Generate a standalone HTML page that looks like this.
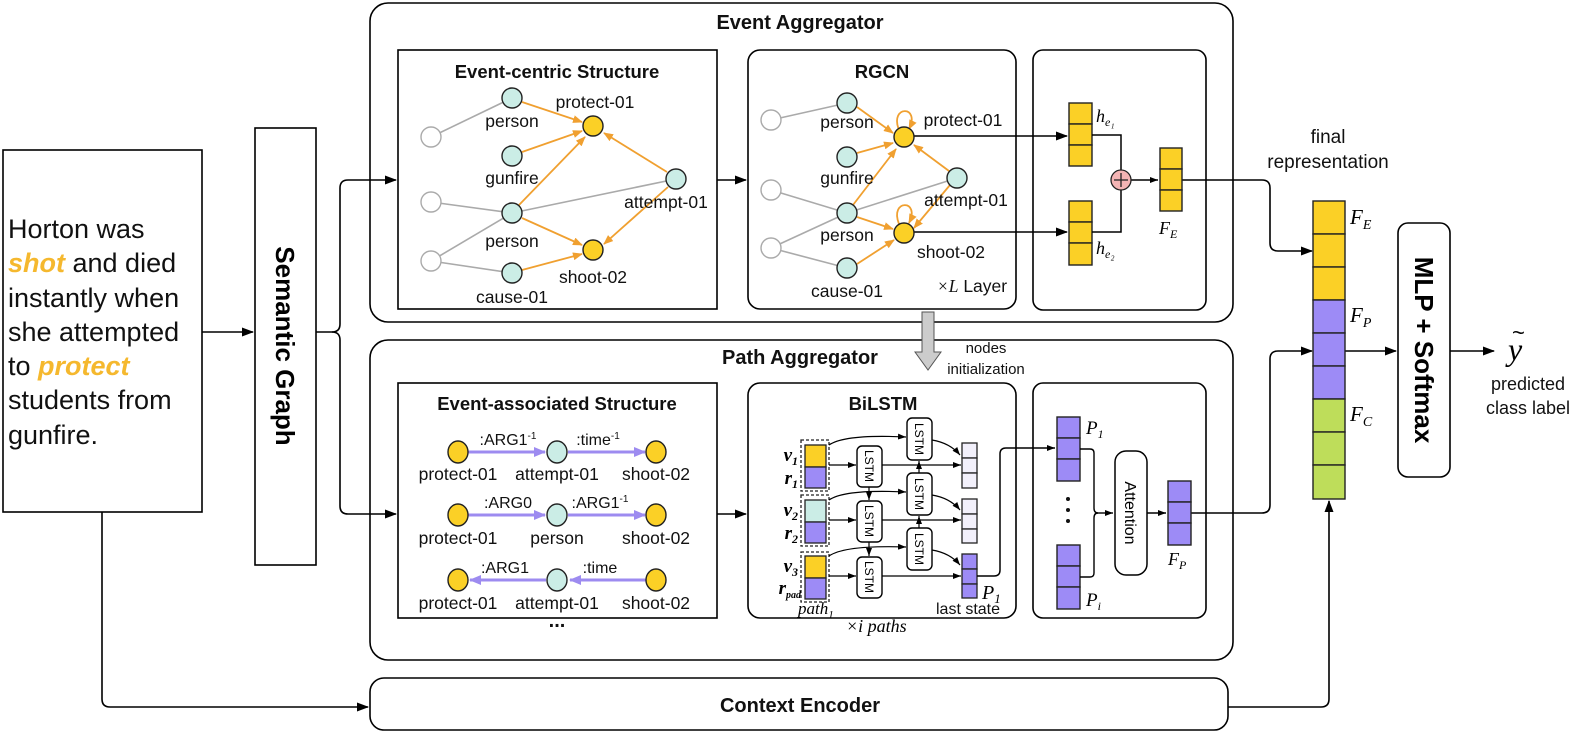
<!DOCTYPE html>
<html><head><meta charset="utf-8"><style>
html,body{margin:0;padding:0;background:#fff;}
svg{display:block;font-family:"Liberation Sans",sans-serif;}
.t{font-size:17.5px;fill:#111;text-anchor:middle;}
.b{font-weight:bold;}
.m{font-family:"Liberation Serif",serif;font-style:italic;}
</style></head><body>
<svg width="1575" height="734" viewBox="0 0 1575 734" xmlns="http://www.w3.org/2000/svg">
<defs>
<marker id="ak" markerWidth="12" markerHeight="9" refX="11" refY="4.5" orient="auto" markerUnits="userSpaceOnUse"><path d="M0,0 L12,4.5 L0,9 z" fill="#000"/></marker>
<marker id="as" markerWidth="8" markerHeight="6" refX="8" refY="3" orient="auto" markerUnits="userSpaceOnUse"><path d="M0,0 L8,3 L0,6 z" fill="#000"/></marker>
<marker id="ao" markerWidth="10" markerHeight="8" refX="9" refY="4" orient="auto" markerUnits="userSpaceOnUse"><path d="M0,0 L10,4 L0,8 z" fill="#F0A030"/></marker>
<marker id="ap" markerWidth="12" markerHeight="10" refX="11" refY="5" orient="auto" markerUnits="userSpaceOnUse"><path d="M0,0 L12,5 L0,10 z" fill="#9D8BF0"/></marker>
</defs>
<g fill="none" stroke="#000" stroke-width="1.6">
<rect x="3" y="150" width="199" height="362"/>
<rect x="255" y="128" width="61" height="437"/>
<rect x="370" y="3" width="863" height="319" rx="18"/>
<rect x="370" y="340" width="863" height="320" rx="18"/>
<rect x="370" y="678" width="858" height="52" rx="14"/>
<rect x="398" y="50" width="319" height="259"/>
<rect x="748" y="50" width="268" height="259" rx="12"/>
<rect x="1033" y="50" width="173" height="260" rx="10"/>
<rect x="398" y="383" width="319" height="235"/>
<rect x="748" y="383" width="268" height="235" rx="12"/>
<rect x="1033" y="383" width="173" height="235" rx="10"/>
<rect x="1398" y="223" width="52" height="254" rx="10"/>
</g>
<g fill="none" stroke="#000" stroke-width="1.6">
<path d="M202,332 H253" marker-end="url(#ak)"/>
<path d="M316,332 H332 Q340,332 340,324 V188 Q340,180 348,180 H396" marker-end="url(#ak)"/>
<path d="M332,332 Q340,332 340,340 V506 Q340,514 348,514 H396" marker-end="url(#ak)"/>
<path d="M717,180 H746" marker-end="url(#ak)"/>
<path d="M717,514 H746" marker-end="url(#ak)"/>
<path d="M102,512 V699 Q102,707 110,707 H368" marker-end="url(#ak)"/>
<path d="M1228,707 H1321 Q1329,707 1329,699 V501" marker-end="url(#ak)"/>
<path d="M1182,180 H1262 Q1270,180 1270,188 V243 Q1270,251 1278,251 H1312" marker-end="url(#ak)"/>
<path d="M1191,513 H1262 Q1270,513 1270,505 V359 Q1270,351 1278,351 H1312" marker-end="url(#ak)"/>
<path d="M1345,351 H1396" marker-end="url(#ak)"/>
<path d="M1450,351 H1494" marker-end="url(#ak)"/>
</g>
<path d="M922,312 H934 V352 H941 L928,370 L915,352 H922 Z" fill="#ccc" stroke="#555" stroke-width="1"/>
<text class="t" x="986" y="353" style="font-size:15px">nodes</text>
<text class="t" x="986" y="374" style="font-size:15px">initialization</text>

<text class="t b" x="800" y="29" style="font-size:20px">Event Aggregator</text>
<text class="t b" x="800" y="364" style="font-size:20px">Path Aggregator</text>
<text class="t b" x="800" y="712" style="font-size:20px">Context Encoder</text>
<text class="t b" x="557" y="78" style="font-size:18.5px">Event-centric Structure</text>
<text class="t b" x="882" y="78" style="font-size:18.5px">RGCN</text>
<text class="t b" x="557" y="410" style="font-size:18.5px">Event-associated Structure</text>
<text class="t b" x="883" y="410" style="font-size:18.5px">BiLSTM</text>
<text class="b" transform="translate(276,346) rotate(90)" text-anchor="middle" style="font-size:26px">Semantic Graph</text>
<text class="b" transform="translate(1415,350) rotate(90)" text-anchor="middle" style="font-size:26px">MLP + Softmax</text>

<g style="font-size:27px" fill="#111">
<text x="8" y="238">Horton was</text>
<text x="8" y="272"><tspan fill="#F5B82E" font-weight="bold" font-style="italic">shot</tspan> and died</text>
<text x="8" y="307">instantly when</text>
<text x="8" y="341">she attempted</text>
<text x="8" y="375">to <tspan fill="#F5B82E" font-weight="bold" font-style="italic">protect</tspan></text>
<text x="8" y="409">students from</text>
<text x="8" y="444">gunfire.</text>
</g>

<!-- Event-centric graph -->
<g stroke="#aaa" stroke-width="1.6" fill="none">
<line x1="431" y1="137" x2="512" y2="98"/>
<line x1="431" y1="202" x2="512" y2="213"/>
<line x1="431" y1="261" x2="512" y2="213"/>
<line x1="431" y1="261" x2="512" y2="273"/>
<line x1="512" y1="213" x2="676" y2="179"/>
</g>
<g stroke="#F0A030" stroke-width="1.8" fill="none" marker-end="url(#ao)">
<line x1="522" y1="102" x2="582" y2="122"/>
<line x1="522" y1="152" x2="582" y2="131"/>
<line x1="519" y1="205" x2="585" y2="137"/>
<line x1="667" y1="172" x2="604" y2="133"/>
<line x1="522" y1="218" x2="582" y2="245"/>
<line x1="668" y1="187" x2="604" y2="244"/>
<line x1="522" y1="270" x2="582" y2="254"/>
</g>
<g stroke="#222" stroke-width="1.4">
<circle cx="431" cy="137" r="10" fill="#fff" stroke="#aaa"/>
<circle cx="431" cy="202" r="10" fill="#fff" stroke="#aaa"/>
<circle cx="431" cy="261" r="10" fill="#fff" stroke="#aaa"/>
<circle cx="512" cy="98" r="10" fill="#CBEDE6"/>
<circle cx="512" cy="156" r="10" fill="#CBEDE6"/>
<circle cx="512" cy="213" r="10" fill="#CBEDE6"/>
<circle cx="512" cy="273" r="10" fill="#CBEDE6"/>
<circle cx="676" cy="179" r="10" fill="#CBEDE6"/>
<circle cx="593" cy="126" r="10" fill="#FBD026"/>
<circle cx="593" cy="250" r="10" fill="#FBD026"/>
</g>
<text class="t" x="595" y="108">protect-01</text>
<text class="t" x="512" y="127">person</text>
<text class="t" x="512" y="184">gunfire</text>
<text class="t" x="666" y="208">attempt-01</text>
<text class="t" x="512" y="247">person</text>
<text class="t" x="593" y="283">shoot-02</text>
<text class="t" x="512" y="303">cause-01</text>

<!-- RGCN graph -->
<g stroke="#aaa" stroke-width="1.6" fill="none">
<line x1="771" y1="120" x2="847" y2="103"/>
<line x1="771" y1="190" x2="847" y2="213"/>
<line x1="771" y1="248" x2="847" y2="213"/>
<line x1="771" y1="248" x2="847" y2="268"/>
<line x1="847" y1="213" x2="957" y2="178"/>
</g>
<g stroke="#F0A030" stroke-width="1.8" fill="none" marker-end="url(#ao)">
<line x1="857" y1="107" x2="893" y2="133"/>
<line x1="857" y1="153" x2="893" y2="143"/>
<line x1="853" y1="205" x2="896" y2="149"/>
<line x1="949" y1="171" x2="914" y2="145"/>
<line x1="857" y1="217" x2="893" y2="229"/>
<line x1="950" y1="185" x2="914" y2="228"/>
<line x1="857" y1="264" x2="894" y2="240"/>
<path d="M899,130 C889,105 921,105 909,129"/>
<path d="M899,224 C889,199 921,199 909,223"/>
</g>
<g stroke="#000" stroke-width="1.6" fill="none">
<path d="M914,136 H1067" marker-end="url(#ak)"/>
<path d="M914,232 H1067" marker-end="url(#ak)"/>
</g>
<g stroke="#222" stroke-width="1.4">
<circle cx="771" cy="120" r="10" fill="#fff" stroke="#aaa"/>
<circle cx="771" cy="190" r="10" fill="#fff" stroke="#aaa"/>
<circle cx="771" cy="248" r="10" fill="#fff" stroke="#aaa"/>
<circle cx="847" cy="103" r="10" fill="#CBEDE6"/>
<circle cx="847" cy="157" r="10" fill="#CBEDE6"/>
<circle cx="847" cy="213" r="10" fill="#CBEDE6"/>
<circle cx="847" cy="268" r="10" fill="#CBEDE6"/>
<circle cx="957" cy="178" r="10" fill="#CBEDE6"/>
<circle cx="904" cy="137" r="10" fill="#FBD026"/>
<circle cx="904" cy="233" r="10" fill="#FBD026"/>
</g>
<text class="t" x="847" y="128">person</text>
<text class="t" x="963" y="126">protect-01</text>
<text class="t" x="847" y="184">gunfire</text>
<text class="t" x="966" y="206">attempt-01</text>
<text class="t" x="847" y="241">person</text>
<text class="t" x="951" y="258">shoot-02</text>
<text class="t" x="847" y="297">cause-01</text>
<text class="t" x="972" y="292"><tspan class="m">×L</tspan> Layer</text>

<!-- Event aggregator right part -->
<g stroke="#222" stroke-width="1.4" fill="#FBD026">
<rect x="1069" y="103" width="23" height="21"/><rect x="1069" y="124" width="23" height="21"/><rect x="1069" y="145" width="23" height="21"/>
<rect x="1069" y="201" width="23" height="21"/><rect x="1069" y="222" width="23" height="21"/><rect x="1069" y="243" width="23" height="22"/>
<rect x="1160" y="148" width="22" height="21"/><rect x="1160" y="169" width="22" height="21"/><rect x="1160" y="190" width="22" height="21"/>
</g>
<g stroke="#000" stroke-width="1.5" fill="none">
<path d="M1092,135 H1121 V170"/>
<path d="M1092,232 H1121 V190"/>
<path d="M1131,180 H1158" marker-end="url(#as)"/>
</g>
<circle cx="1121" cy="180" r="10" fill="#F4B4B4" stroke="#222" stroke-width="1.3"/>
<path d="M1114,180 H1128 M1121,173 V187" stroke="#222" stroke-width="1.3"/>
<text class="m" x="1096" y="122" style="font-size:18px">h<tspan dy="4" style="font-size:12px">e₁</tspan></text>
<text class="m" x="1096" y="254" style="font-size:18px">h<tspan dy="4" style="font-size:12px">e₂</tspan></text>
<text class="m" x="1159" y="234" style="font-size:18px">F<tspan dy="4" style="font-size:12px">E</tspan></text>

<text class="t" x="1328" y="143" style="font-size:19px">final</text>
<text class="t" x="1328" y="168" style="font-size:19px">representation</text>
<g stroke="#222" stroke-width="1.4">
<rect x="1313" y="201" width="32" height="33" fill="#FBD026"/><rect x="1313" y="234" width="32" height="33" fill="#FBD026"/><rect x="1313" y="267" width="32" height="33" fill="#FBD026"/>
<rect x="1313" y="300" width="32" height="33" fill="#9D8BF6"/><rect x="1313" y="333" width="32" height="33" fill="#9D8BF6"/><rect x="1313" y="366" width="32" height="33" fill="#9D8BF6"/>
<rect x="1313" y="399" width="32" height="33" fill="#BEDD5A"/><rect x="1313" y="432" width="32" height="33" fill="#BEDD5A"/><rect x="1313" y="465" width="32" height="34" fill="#BEDD5A"/>
</g>
<text class="m" x="1350" y="224" style="font-size:21px">F<tspan dy="5" style="font-size:14px">E</tspan></text>
<text class="m" x="1350" y="322" style="font-size:21px">F<tspan dy="5" style="font-size:14px">P</tspan></text>
<text class="m" x="1350" y="421" style="font-size:21px">F<tspan dy="5" style="font-size:14px">C</tspan></text>
<text class="m" x="1508" y="360" style="font-size:32px">y</text>
<text x="1512" y="340" style="font-size:22px">~</text>
<text class="t" x="1528" y="390" style="font-size:18px">predicted</text>
<text class="t" x="1528" y="414" style="font-size:18px">class label</text>

<!-- Event-associated -->
<g stroke="#9D8BF0" stroke-width="3" fill="none" marker-end="url(#ap)">
<line x1="468" y1="452" x2="545" y2="452"/><line x1="568" y1="452" x2="645" y2="452"/>
<line x1="468" y1="515" x2="545" y2="515"/><line x1="568" y1="515" x2="645" y2="515"/>
<line x1="546" y1="580" x2="470" y2="580"/><line x1="646" y1="580" x2="570" y2="580"/>
</g>
<g stroke="#222" stroke-width="1.4">
<ellipse cx="458" cy="452" rx="10" ry="11" fill="#FBD026"/><ellipse cx="557" cy="452" rx="10" ry="11" fill="#CBEDE6"/><ellipse cx="656" cy="452" rx="10" ry="11" fill="#FBD026"/>
<ellipse cx="458" cy="515" rx="10" ry="11" fill="#FBD026"/><ellipse cx="557" cy="515" rx="10" ry="11" fill="#CBEDE6"/><ellipse cx="656" cy="515" rx="10" ry="11" fill="#FBD026"/>
<ellipse cx="458" cy="580" rx="10" ry="11" fill="#FBD026"/><ellipse cx="557" cy="580" rx="10" ry="11" fill="#CBEDE6"/><ellipse cx="656" cy="580" rx="10" ry="11" fill="#FBD026"/>
</g>
<g style="font-size:16px">
<text class="t" x="508" y="445" style="font-size:16px">:ARG1<tspan dy="-6" style="font-size:10px">-1</tspan></text>
<text class="t" x="598" y="445" style="font-size:16px">:time<tspan dy="-6" style="font-size:10px">-1</tspan></text>
<text class="t" x="508" y="508" style="font-size:16px">:ARG0</text>
<text class="t" x="600" y="508" style="font-size:16px">:ARG1<tspan dy="-6" style="font-size:10px">-1</tspan></text>
<text class="t" x="505" y="573" style="font-size:16px">:ARG1</text>
<text class="t" x="600" y="573" style="font-size:16px">:time</text>
</g>
<text class="t" x="458" y="480">protect-01</text><text class="t" x="557" y="480">attempt-01</text><text class="t" x="656" y="480">shoot-02</text>
<text class="t" x="458" y="544">protect-01</text><text class="t" x="557" y="544">person</text><text class="t" x="656" y="544">shoot-02</text>
<text class="t" x="458" y="609">protect-01</text><text class="t" x="557" y="609">attempt-01</text><text class="t" x="656" y="609">shoot-02</text>
<text class="t b" x="557" y="627" style="font-size:20px">...</text>

<!-- BiLSTM -->
<g stroke="#222" stroke-width="1.3" stroke-dasharray="3,2" fill="none">
<rect x="801" y="440" width="28" height="51"/><rect x="801" y="495" width="28" height="51"/><rect x="801" y="552" width="28" height="50"/>
</g>
<g stroke="#222" stroke-width="1.3">
<rect x="805" y="445" width="21" height="22" fill="#FBD026"/><rect x="805" y="467" width="21" height="21" fill="#9D8BF6"/>
<rect x="805" y="500" width="21" height="22" fill="#CBEDE6"/><rect x="805" y="522" width="21" height="21" fill="#9D8BF6"/>
<rect x="805" y="556" width="21" height="22" fill="#FBD026"/><rect x="805" y="578" width="21" height="21" fill="#9D8BF6"/>
<rect x="962" y="443" width="15" height="15" fill="#f2f0fb"/><rect x="962" y="458" width="15" height="15" fill="#f2f0fb"/><rect x="962" y="473" width="15" height="15" fill="#f2f0fb"/>
<rect x="962" y="499" width="15" height="15" fill="#f2f0fb"/><rect x="962" y="514" width="15" height="15" fill="#f2f0fb"/><rect x="962" y="529" width="15" height="14" fill="#f2f0fb"/>
<rect x="962" y="554" width="15" height="15" fill="#9D8BF6"/><rect x="962" y="569" width="15" height="15" fill="#9D8BF6"/><rect x="962" y="584" width="15" height="14" fill="#9D8BF6"/>
</g>
<g stroke="#000" stroke-width="1.4" fill="#fff">
<rect x="857" y="446" width="25" height="41" rx="5"/><rect x="857" y="501" width="25" height="41" rx="5"/><rect x="857" y="557" width="25" height="41" rx="5"/>
<rect x="907" y="418" width="25" height="42" rx="5"/><rect x="907" y="473" width="25" height="42" rx="5"/><rect x="907" y="528" width="25" height="42" rx="5"/>
</g>
<g style="font-size:12px">
<text transform="translate(865,466) rotate(90)" text-anchor="middle">LSTM</text>
<text transform="translate(865,521) rotate(90)" text-anchor="middle">LSTM</text>
<text transform="translate(865,577) rotate(90)" text-anchor="middle">LSTM</text>
<text transform="translate(915,439) rotate(90)" text-anchor="middle">LSTM</text>
<text transform="translate(915,494) rotate(90)" text-anchor="middle">LSTM</text>
<text transform="translate(915,549) rotate(90)" text-anchor="middle">LSTM</text>
</g>
<g stroke="#000" stroke-width="1.2" fill="none" marker-end="url(#as)">
<path d="M829,465 H856"/><path d="M882,465 H961"/>
<path d="M829,520 H856"/><path d="M882,520 H961"/>
<path d="M829,576 H856"/><path d="M882,576 H961"/>
<path d="M829,445 Q845,434 906,437"/>
<path d="M829,500 Q845,489 906,492"/>
<path d="M829,556 Q845,545 906,547"/>
<path d="M932,440 Q950,443 960,455"/>
<path d="M932,495 Q950,498 960,510"/>
<path d="M932,550 Q950,553 960,565"/>
<path d="M869,487 V500"/><path d="M869,542 V556"/>
<path d="M919,528 V516"/><path d="M919,473 V461"/>
</g>
<g class="m" style="font-size:19px" text-anchor="end">
<text x="798" y="461" font-weight="bold">v<tspan dy="4" style="font-size:12px">1</tspan></text>
<text x="798" y="484" font-weight="bold">r<tspan dy="4" style="font-size:12px">1</tspan></text>
<text x="798" y="516" font-weight="bold">v<tspan dy="4" style="font-size:12px">2</tspan></text>
<text x="798" y="539" font-weight="bold">r<tspan dy="4" style="font-size:12px">2</tspan></text>
<text x="798" y="572" font-weight="bold">v<tspan dy="4" style="font-size:12px">3</tspan></text>
<text x="801" y="594" font-weight="bold">r<tspan dy="4" style="font-size:10px">pad</tspan></text>
</g>
<text class="m" x="798" y="614" style="font-size:17px">path<tspan dy="4" style="font-size:11px">1</tspan></text>
<text class="m" x="846" y="632" style="font-size:18px">×i paths</text>
<text class="m" x="982" y="599" style="font-size:20px">P<tspan dy="4" style="font-size:13px">1</tspan></text>
<text class="t" x="968" y="614" style="font-size:16px">last state</text>
<path d="M977,576 H994 Q1000,576 1000,570 V454 Q1000,448 1006,448 H1055" fill="none" stroke="#000" stroke-width="1.5" marker-end="url(#as)"/>

<!-- path agg right -->
<g stroke="#222" stroke-width="1.4" fill="#9D8BF6">
<rect x="1057" y="417" width="23" height="21"/><rect x="1057" y="438" width="23" height="21"/><rect x="1057" y="459" width="23" height="22"/>
<rect x="1057" y="545" width="23" height="21"/><rect x="1057" y="566" width="23" height="21"/><rect x="1057" y="587" width="23" height="22"/>
<rect x="1168" y="481" width="23" height="21"/><rect x="1168" y="502" width="23" height="21"/><rect x="1168" y="523" width="23" height="22"/>
</g>
<g fill="#111"><circle cx="1068" cy="499" r="2"/><circle cx="1068" cy="510" r="2"/><circle cx="1068" cy="521" r="2"/></g>
<rect x="1115" y="451" width="32" height="124" rx="11" fill="#fff" stroke="#000" stroke-width="1.5"/>
<text transform="translate(1125,513) rotate(90)" text-anchor="middle" style="font-size:16px">Attention</text>
<g stroke="#000" stroke-width="1.4" fill="none">
<path d="M1080,449 H1090 Q1094,449 1094,453 V508 Q1094,513 1098,513 M1080,577 H1090 Q1094,577 1094,573 V518 Q1094,513 1098,513"/>
<path d="M1097,513 H1113" marker-end="url(#as)"/>
<path d="M1147,513 H1166" marker-end="url(#as)"/>
</g>
<text class="m" x="1086" y="434" style="font-size:19px">P<tspan dy="4" style="font-size:12px">1</tspan></text>
<text class="m" x="1086" y="606" style="font-size:19px">P<tspan dy="4" style="font-size:12px">i</tspan></text>
<text class="m" x="1168" y="565" style="font-size:18px">F<tspan dy="4" style="font-size:12px">P</tspan></text>
</svg>
</body></html>
